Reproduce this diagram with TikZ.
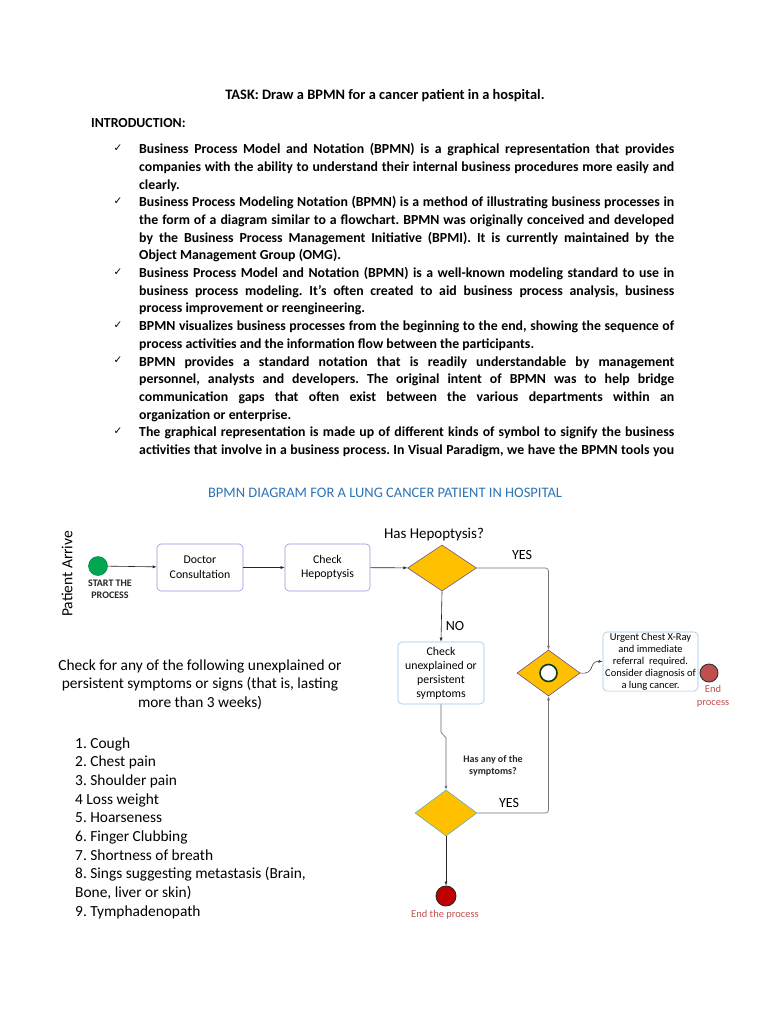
\documentclass[tikz,border=0pt]{standalone}
\usepackage{fontspec}
\setmainfont{Carlito}
\newfontfamily\checkfont{DejaVu Sans}
\usetikzlibrary{shapes.geometric,arrows.meta}
\definecolor{gold}{RGB}{255,192,0}
\definecolor{diagblue}{RGB}{46,116,181}
\definecolor{taskline}{RGB}{150,150,225}
\definecolor{cyanline}{RGB}{150,200,230}
\definecolor{purpleline}{RGB}{90,60,140}
\definecolor{tealline}{RGB}{75,172,198}
\definecolor{startgreen}{RGB}{0,166,81}
\definecolor{endbrown}{RGB}{192,80,77}
\definecolor{enddark}{RGB}{192,0,0}
\definecolor{gwgreen}{RGB}{10,60,30}
\newcommand\justline[1]{\makebox[535pt][s]{#1}}
\frenchspacing
\begin{document}
\begin{tikzpicture}[x=1pt,y=-1pt,
  body/.style={font=\fontsize{13.8}{17.7}\selectfont\bfseries, inner sep=0pt, anchor=north west, align=left},
  tick/.style={font=\checkfont\fontsize{10.5}{10.5}\selectfont, inner sep=0pt},
  task/.style={draw=taskline, rounded corners=4pt, line width=0.6pt, inner sep=1pt, align=center,
               font=\fontsize{11.8}{14.5}\selectfont, minimum width=86pt, minimum height=47pt},
  cyantask/.style={draw=cyanline, rounded corners=4pt, line width=0.6pt, inner sep=1pt, align=center},
  gate/.style={diamond, fill=gold, draw=purpleline, line width=0.5pt, inner sep=0pt, aspect=1.5},
  conn/.style={draw=black!85, line width=0.6pt, -{Latex[length=4pt,width=3pt]}},
  gconn/.style={draw=black!55, line width=0.6pt, rounded corners=3pt, -{Latex[length=4pt,width=3pt]}},
  lbl/.style={inner sep=0pt, align=center},
  redlbl/.style={inner sep=0pt, align=center, text=endbrown, font=\fontsize{10.5}{12.5}\selectfont}
]
\useasboundingbox (0,0) rectangle (768,1024);
\fill[white] (0,0) rectangle (768,1024);

% ---------- heading ----------
\node[lbl, font=\fontsize{14.4}{17.7}\selectfont\bfseries] (task) at (385,96) {TASK: Draw a BPMN for a cancer patient in a hospital.};
\node[lbl, anchor=west, font=\fontsize{13.8}{17.7}\selectfont\bfseries] (intro) at (91,123) {INTRODUCTION:};

% ---------- bullets ----------
\node[tick] (t1) at (118,148) {✓};
\node[body] (b1) at (139,141.1) {\strut\justline{Business Process Model and Notation (BPMN) is a graphical representation that provides}\\
\justline{companies with the ability to understand their internal business procedures more easily and}\\
clearly.};
\node[tick] (t2) at (118,201.1) {✓};
\node[body] (b2) at (139,194.2) {\strut\justline{Business Process Modeling Notation (BPMN) is a method of illustrating business processes in}\\
\justline{the form of a diagram similar to a flowchart. BPMN was originally conceived and developed}\\
\justline{by the Business Process Management Initiative (BPMI). It is currently maintained by the}\\
Object Management Group (OMG).};
\node[tick] (t3) at (118,271.9) {✓};
\node[body] (b3) at (139,265) {\strut\justline{Business Process Model and Notation (BPMN) is a well-known modeling standard to use in}\\
\justline{business process modeling. It’s often created to aid business process analysis, business}\\
process improvement or reengineering.};
\node[tick] (t4) at (118,325) {✓};
\node[body] (b4) at (139,318.1) {\strut\justline{BPMN visualizes business processes from the beginning to the end, showing the sequence of}\\
process activities and the information flow between the participants.};
\node[tick] (t5) at (118,360.4) {✓};
\node[body] (b5) at (139,353.5) {\strut\justline{BPMN provides a standard notation that is readily understandable by management}\\
\justline{personnel, analysts and developers. The original intent of BPMN was to help bridge}\\
\justline{communication gaps that often exist between the various departments within an}\\
organization or enterprise.};
\node[tick] (t6) at (118,431.2) {✓};
\node[body] (b6) at (139,424.3) {\strut\justline{The graphical representation is made up of different kinds of symbol to signify the business}\\
\justline{activities that involve in a business process. In Visual Paradigm, we have the BPMN tools you}};

% ---------- diagram title ----------
\node[lbl, text=diagblue, font=\fontsize{14.5}{17}\selectfont] (dtitle) at (385,493) {BPMN DIAGRAM FOR A LUNG CANCER PATIENT IN HOSPITAL};

\node[lbl, rotate=90, font=\fontsize{15.5}{18}\selectfont] (pa) at (67,574) {Patient Arrive};

% ---------- flow nodes ----------
\node[circle, fill=startgreen, draw=startgreen!80!black, line width=0.5pt, minimum size=19pt, inner sep=0pt] (start) at (98,566) {};
\node[lbl, font=\fontsize{10}{12}\selectfont\bfseries, text=black!85] (startlbl) at (110,589) {START THE\\PROCESS};

\node[task] (doc) at (200,567.5) {Doctor\\Consultation};
\node[task, minimum width=85pt] (hep) at (327.5,567.5) {Check\\Hepoptysis};

\node[gate, minimum width=69pt, minimum height=46pt] (d1) at (442,568) {};
\node[lbl, font=\fontsize{15}{18}\selectfont] (hasq) at (434,535) {Has Hepoptysis?};
\node[lbl, font=\fontsize{14}{17}\selectfont] (yes1) at (522,555) {YES};
\node[lbl, font=\fontsize{14}{17}\selectfont] (no1) at (455,626) {NO};

\node[cyantask, minimum width=86pt, minimum height=62pt, font=\fontsize{11.8}{14}\selectfont] (unx) at (441,673) {Check\\unexplained or\\persistent\\symptoms};

\node[gate, minimum width=63pt, minimum height=46pt] (gw) at (548.5,673) {};
\node[circle, draw=gwgreen, fill=white, line width=1.6pt, minimum size=17pt, inner sep=0pt] (gwc) at (gw.center) {};

\node[cyantask, minimum width=95pt, minimum height=55pt, font=\fontsize{10.5}{12}\selectfont] (urg) at (650.5,661.5) {Urgent Chest X-Ray\\and immediate\\referral\ \ required.\\Consider diagnosis of\\a lung cancer.};
\node[circle, fill=endbrown, draw=black!80, line width=0.9pt, minimum size=18pt, inner sep=0pt] (endA) at (709,673) {};
\node[redlbl] (endAlbl) at (713,696) {End\\process};

\node[lbl, font=\fontsize{10}{12.5}\selectfont\bfseries, text=black!85] (anyq) at (493,766) {Has any of the\\symptoms?};
\node[gate, draw=tealline, minimum width=62pt, minimum height=46pt] (d3) at (446,813) {};
\node[lbl, font=\fontsize{14}{17}\selectfont] (yes2) at (509,803) {YES};

\node[circle, fill=enddark, draw=black!85, line width=0.9pt, minimum size=20pt, inner sep=0pt] (endB) at (446,896) {};
\node[redlbl] (endBlbl) at (445,915) {End the process};

% ---------- connectors ----------
\draw[conn] (start) -- (doc);
\draw[conn] (doc) -- (hep);
\draw[conn] (hep) -- (d1);
\draw[gconn] (d1.east) -| (gw.north);
\draw[conn] (d1.south) -- (unx.north);
\draw[conn, draw=black!60] (unx.south) -- ([yshift=-28pt]unx.south) -- ([yshift=52pt]d3.north) -- (d3.north);
\draw[gconn] (d3.east) -| (gw.south);
\draw[conn] (d3.south) -- (endB.north);
\draw[conn, draw=black!75] (gw.east) .. controls (596,675) and (588,661) .. (urg.west);

% ---------- left text ----------
\node[inner sep=0pt, anchor=north, align=center, font=\fontsize{15.4}{18.7}\selectfont] (symtxt) at (200,656.9) {\strut Check for any of the following unexplained or\\persistent symptoms or signs (that is, lasting\\more than 3 weeks)};
\node[inner sep=0pt, anchor=north west, align=left, font=\fontsize{15.4}{18.7}\selectfont] (list) at (75,734.7) {\strut 1. Cough\\2. Chest pain\\3. Shoulder pain\\4 Loss weight\\5. Hoarseness\\6. Finger Clubbing\\7. Shortness of breath\\8. Sings suggesting metastasis (Brain,\\Bone, liver or skin)\\9. Tymphadenopath};
\end{tikzpicture}
\end{document}
